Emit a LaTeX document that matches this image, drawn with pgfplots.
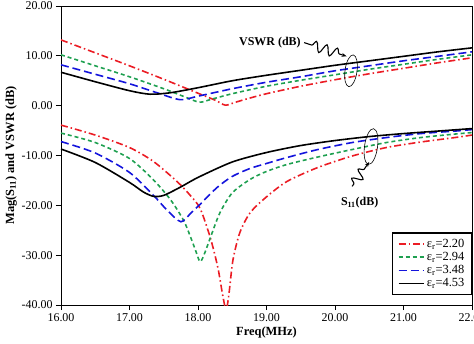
\documentclass[border=0pt]{standalone}
\usepackage{fontspec}
\setmainfont{Liberation Serif}
\usepackage{pgfplots}
\pgfplotsset{compat=1.18}
\usetikzlibrary{decorations.pathmorphing,arrows.meta}
\definecolor{cRed}{RGB}{235,28,36}
\definecolor{cGreen}{RGB}{30,160,80}
\definecolor{cBlue}{RGB}{20,20,220}
\begin{document}
\begin{tikzpicture}
\begin{axis}[
  scale only axis, width=411bp, height=299bp,
  xmin=16, xmax=22, ymin=-40, ymax=20,
  xtick={16,17,...,22}, ytick={-40,-30,...,20},
  tick align=outside, xtick pos=bottom, ytick pos=left,
  major tick length=5bp,
  tick style={black, line width=0.8pt},
  axis line style={black, line width=1pt},
  /pgf/number format/assume math mode=true,
  /pgf/number format/fixed, /pgf/number format/fixed zerofill, /pgf/number format/precision=2,
  ticklabel style={font=\fontsize{12}{13}\selectfont},
  xlabel={\textbf{Freq(MHz)}},
  ylabel={\textbf{Mag(S\textsubscript{11}) and VSWR (dB)}},
  label style={font=\fontsize{12.5}{14}\selectfont},
  xlabel style={yshift=2bp},
  ylabel style={yshift=-2bp},
  every axis plot/.append style={line width=1.6pt, smooth, tension=0.45},
  legend style={at={(rel axis cs:1,0.033)}, anchor=south east, draw=black, line width=1.3pt,
    font=\fontsize{12.5}{14}\selectfont, row sep=-0.5bp, inner xsep=5bp, inner ysep=4bp},
  legend cell align=left,
  legend image code/.code={\draw[#1, line width=1.6pt] (0cm,0cm) -- (0.9cm,0cm);},
  clip=true,
]
% S11 curves (with legend)
\addplot[cRed, dash pattern=on 7pt off 3pt on 1.5pt off 3pt] coordinates {
(16.0,-3.9) (16.5,-5.9) (17.0,-8.4) (17.35,-11.2) (17.7,-15.3) (17.88,-17.9) (18.03,-20.6)
(18.18,-26.5) (18.29,-32.5) (18.36,-38) (18.41,-41) (18.45,-38) (18.51,-31) (18.61,-25.5)
(18.76,-21.5) (19.0,-18.3) (19.3,-15.2) (19.75,-12.4) (20.25,-10.1) (20.75,-8.4)
(21.25,-7.3) (21.75,-6.4) (22.0,-5.9)};
\addlegendentry{ε\textsubscript{r}=2.20}
\addplot[cGreen, dash pattern=on 4pt off 3pt] coordinates {
(16.0,-5.5) (16.5,-7.4) (17.0,-10.6) (17.35,-14.9) (17.6,-18.9) (17.8,-23.3) (17.95,-28.5)
(18.03,-31.3) (18.1,-29.5) (18.18,-26.5) (18.32,-21.5) (18.5,-17.5) (18.76,-14.8) (19.0,-13.2)
(19.3,-11.8) (19.75,-10.3) (20.25,-8.8) (20.75,-7.4) (21.25,-6.4) (21.75,-5.7) (22.0,-5.4)};
\addlegendentry{ε\textsubscript{r}=2.94}
\addplot[cBlue, dash pattern=on 8pt off 4pt] coordinates {
(16.0,-7.2) (16.5,-9.5) (17.0,-13.4) (17.35,-18.0) (17.55,-21.0) (17.75,-23.3) (17.9,-21.5)
(18.03,-19.8) (18.28,-16.4) (18.5,-14.2) (18.76,-12.6) (19.0,-11.6) (19.3,-10.4) (19.75,-8.8)
(20.25,-7.4) (20.75,-6.4) (21.25,-5.6) (21.75,-5.1) (22.0,-4.8)};
\addlegendentry{ε\textsubscript{r}=3.48}
\addplot[black] coordinates {
(16.0,-8.7) (16.5,-11.4) (17.0,-15.4) (17.2,-17.3) (17.35,-18.2) (17.5,-18.0) (17.75,-16.3)
(18.0,-14.4) (18.5,-11.3) (19.0,-9.4) (19.5,-8.0) (20.0,-7.0) (20.5,-6.2) (21.0,-5.6)
(21.5,-5.1) (22.0,-4.6)};
\addlegendentry{ε\textsubscript{r}=4.53}
% VSWR curves
\addplot[cRed, dash pattern=on 7pt off 3pt on 1.5pt off 3pt, forget plot] coordinates {
(16.0,13.2) (16.5,10.6) (17.0,8.0) (17.5,5.3) (18.0,2.5) (18.25,1.1) (18.4,0.1) (18.55,0.7)
(18.75,1.5) (19.0,2.4) (19.5,3.9) (20.0,5.2) (20.5,6.4) (21.0,7.5) (21.5,8.6) (22.0,9.6)};
\addplot[cGreen, dash pattern=on 4pt off 3pt, forget plot] coordinates {
(16.0,10.2) (16.5,8.0) (17.0,5.8) (17.5,3.4) (17.8,1.8) (18.02,0.7) (18.2,1.3) (18.5,2.4)
(19.0,3.9) (19.5,5.1) (20.0,6.2) (20.5,7.3) (21.0,8.3) (21.5,9.3) (22.0,10.2)};
\addplot[cBlue, dash pattern=on 8pt off 4pt, forget plot] coordinates {
(16.0,8.2) (16.5,6.3) (17.0,4.4) (17.4,2.6) (17.74,1.2) (18.0,1.9) (18.5,3.4) (19.0,4.7)
(19.5,5.8) (20.0,7.0) (20.5,8.0) (21.0,9.0) (21.5,9.9) (22.0,10.8)};
\addplot[black, forget plot] coordinates {
(16.0,6.7) (16.5,4.8) (17.0,3.0) (17.3,2.3) (17.6,2.6) (18.0,3.6) (18.5,5.0) (19.0,6.1)
(19.5,7.1) (20.0,8.1) (20.5,9.0) (21.0,9.9) (21.5,10.8) (22.0,11.6)};
% annotations
\draw[black, line width=0.6pt, rotate around={-8:(axis cs:20.234,7.0)}] (axis cs:20.234,7.0) ellipse [x radius=6bp, y radius=16bp];
\draw[black, line width=0.6pt, rotate around={-8:(axis cs:20.526,-8.2)}] (axis cs:20.526,-8.2) ellipse [x radius=6.5bp, y radius=18bp];
\node[font=\bfseries\fontsize{12}{13}\selectfont] (vs) at (axis cs:19.05,12.65) {VSWR (dB)};
\draw[line width=1.1pt, -{Stealth[length=5bp]}, decorate, decoration={snake, amplitude=5bp, segment length=11bp, pre length=8bp, post length=6bp}]
  (vs.east) -- (axis cs:20.17,9.9);
\node[font=\bfseries\fontsize{12}{13}\selectfont] (s11) at (axis cs:20.36,-19.4) {S\textsubscript{11}(dB)};
\draw[line width=1.1pt, -{Stealth[length=5bp]}, decorate, decoration={snake, amplitude=5bp, segment length=11bp, pre length=3bp, post length=6bp}]
  (axis cs:20.25,-16.2) -- (axis cs:20.5,-11.3);
\end{axis}
\pgfresetboundingbox
\useasboundingbox ([xshift=-61bp,yshift=-39bp]current axis.south west) rectangle ([xshift=2bp,yshift=6bp]current axis.north east);
\end{tikzpicture}
\end{document}
